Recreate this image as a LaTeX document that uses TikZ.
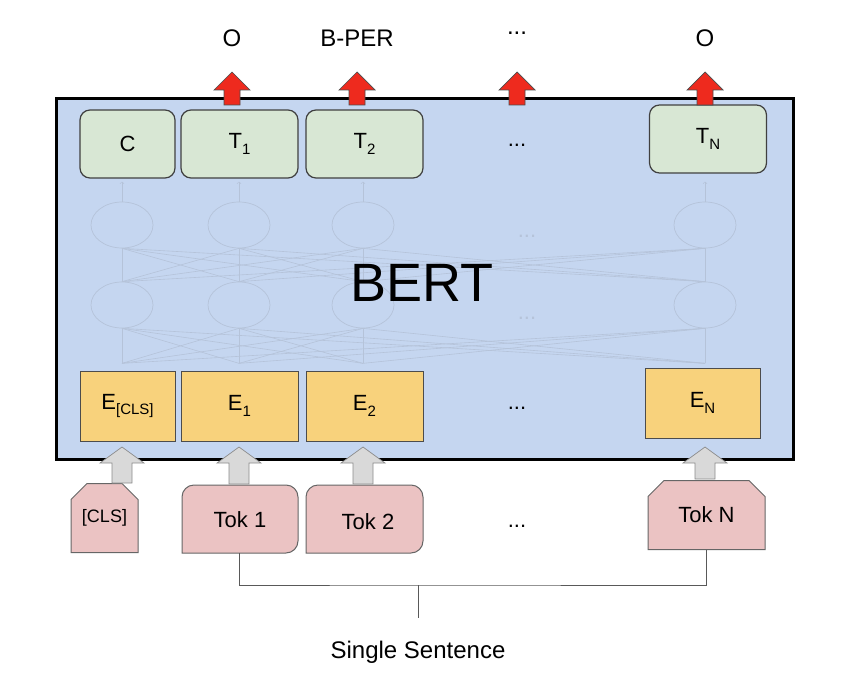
\documentclass[tikz,border=0pt]{standalone}
\usepackage{fontspec}
\setmainfont{Liberation Sans}
\usetikzlibrary{shapes.misc,shapes.geometric}
\definecolor{bertbg}{HTML}{C5D6F0}
\definecolor{tgreen}{HTML}{D8E7D4}
\definecolor{eyel}{HTML}{F8D27C}
\definecolor{tpink}{HTML}{EBC3C3}
\definecolor{faint}{HTML}{B5C3D9}
\definecolor{redarr}{HTML}{EE2A1E}
\definecolor{grayarr}{HTML}{D9D9D9}
\newcommand{\mysub}[1]{\raisebox{-0.5ex}{\fontsize{15}{16}\selectfont #1}}
\begin{document}
\begin{tikzpicture}[x=1pt,y=-1pt,
  lbl/.style={font=\fontsize{24}{26}\selectfont},
  btxt/.style={font=\fontsize{22}{24}\selectfont},
  tbox/.style={draw=black!75,line width=1.2pt,fill=tgreen,rounded corners=10pt,minimum width=117pt,minimum height=68pt,btxt},
  ebox/.style={draw=black!70,line width=1pt,fill=eyel,minimum width=95pt,minimum height=70pt,btxt},
  pbox/.style={draw=black!60,line width=1pt,fill=tpink,chamfered rectangle,chamfered rectangle corners={north west,north east},chamfered rectangle xsep=8pt,chamfered rectangle ysep=8pt,minimum height=69pt,btxt,inner sep=0pt},
  rbox/.style={draw=black!60,line width=1pt,fill=tpink,rounded rectangle,rounded rectangle arc length=0,minimum height=69pt,btxt},
  redA/.style={fill=redarr,draw=black!70,line width=0.7pt},
  grayA/.style={fill=grayarr,draw=black!45,line width=0.7pt},
  neu/.style={draw=faint,line width=0.7pt,ellipse,minimum width=62pt,minimum height=46pt},
  wire/.style={draw=faint,line width=0.6pt}]
\useasboundingbox (0,0) rectangle (848,690);
% BERT box
\node[draw=black,line width=3pt,fill=bertbg,minimum width=737pt,minimum height=361pt,anchor=north west] (bert) at (55,97) {};
% faint network
\foreach \n/\x in {a/122,b/239,c/363,d/705}{
  \node[neu] (u\n) at (\x,225) {};
  \node[neu] (l\n) at (\x,305) {};
}
\foreach \s in {a,b,c,d}{\foreach \t in {a,b,c,d}{
  \draw[wire] (l\s.north) -- (u\t.south);
}}
\foreach \s in {a,b,c,d}{\foreach \t in {a,b,c,d}{
  \draw[wire] ([yshift=-35pt]l\s.south) -- (l\t.south);
}}
\foreach \n/\x in {a/122,b/239,c/363,d/705}{
  \draw[wire,->] (u\n.north) -- ++(0,-20);
}
\node[text=faint,btxt] (fd1) at (527,236) {...};
\node[text=faint,btxt] (fd2) at (527,318) {...};
\node[font=\fontsize{54}{58}\selectfont] (bertl) at (422,283) {BERT};
% top boxes
\node[tbox,minimum width=95pt] (C) at (127.5,144) {C};
\node[tbox] (T1) at (239.5,144) {T\mysub{1}};
\node[tbox] (T2) at (364.5,144) {T\mysub{2}};
\node[btxt] (Td) at (517,145) {...};
\node[tbox] (TN) at (708,139) {T\mysub{N}};
% E boxes
\node[ebox] (E0) at (127.5,406) {E\mysub{[CLS]}};
\node[ebox,minimum width=117pt] (E1) at (239.5,406) {E\mysub{1}};
\node[ebox,minimum width=117pt] (E2) at (364.5,406) {E\mysub{2}};
\node[btxt] (Ed) at (517,408) {...};
\node[ebox,minimum width=115pt] (EN) at (702.5,403) {E\mysub{N}};
% red arrows
\foreach \x in {232,357,517,705}{
  \draw[redA] (\x-8,105) -- (\x-8,90) -- (\x-18,90) -- (\x,72) -- (\x+18,90) -- (\x+8,90) -- (\x+8,105) -- cycle;
}
% output labels
\node[lbl] (o1) at (232,38) {O};
\node[lbl] (o2) at (357,38) {B-PER};
\node[lbl] (o3) at (517,33) {...};
\node[lbl] (o4) at (705,38) {O};
% token boxes
\node[pbox,minimum width=67pt,font=\fontsize{18}{20}\selectfont] (K0) at (104.5,518) {[CLS]};
\path[draw=black!60,line width=1pt,fill=tpink,rounded corners=12pt] (182,553) -- (182,485) -- (298,485) -- (298,553) [sharp corners] -- cycle;
\node[btxt] (K1) at (240,520) {Tok 1};
\path[draw=black!60,line width=1pt,fill=tpink,rounded corners=12pt] (306,553) -- (306,485) -- (423,485) -- (423,553) [sharp corners] -- cycle;
\node[btxt] (K2) at (368,522) {Tok 2};
\node[btxt] (Kd) at (517,526) {...};
\node[pbox,minimum width=117pt] (KN) at (706.5,515) {Tok N};
% gray arrows
\foreach \x/\b in {122/483,239/484,363/484,705/479}{
  \draw[grayA] (\x-10,\b) -- (\x-10,463) -- (\x-22,463) -- (\x,447) -- (\x+22,463) -- (\x+10,463) -- (\x+10,\b) -- cycle;
}
% bracket
\coordinate (k1b) at (239,553);
\coordinate (mid) at (418,585);
\coordinate (bot) at (418,618);
\draw[line width=0.9pt,black!65] (k1b) |- (mid) -| (KN.south);
\draw[line width=0.9pt,black!65] (mid) -- (bot);
\node[lbl] (ss) at (418,652) {Single Sentence};
\end{tikzpicture}
\end{document}
